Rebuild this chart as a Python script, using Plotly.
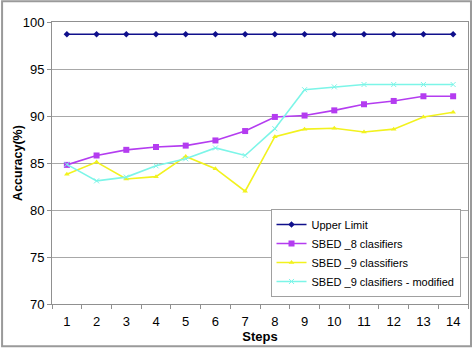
import plotly.graph_objects as go

steps = [str(i) for i in range(1, 15)]
upper_limit = [98.7] * 14
sbed_8 = [84.8, 85.8, 86.4, 86.7, 86.85, 87.4, 88.4, 89.9, 90.05, 90.6, 91.25, 91.6, 92.1, 92.1]
sbed_9 = [83.8, 85.1, 83.3, 83.55, 85.7, 84.4, 82.0, 87.8, 88.6, 88.7, 88.3, 88.6, 89.9, 90.4]
sbed_9_mod = [84.85, 83.1, 83.5, 84.7, 85.45, 86.6, 85.8, 88.65, 92.8, 93.1, 93.35, 93.35, 93.35, 93.35]
y_ticks = [70, 75, 80, 85, 90, 95, 100]

series = [
    ("Upper Limit", upper_limit, "#10108C", dict(symbol="diamond", size=5)),
    ("SBED _8 clasifiers", sbed_8, "#B43CF0", dict(symbol="square", size=6)),
    ("SBED _9 classifiers", sbed_9, "#F2F21E", dict(symbol="triangle-up", size=5)),
    ("SBED _9 clasifiers - modified", sbed_9_mod, "#7CF5E8", dict(symbol="x-thin", size=5, line=dict(width=1, color="#7CF5E8"))),
]

fig = go.Figure()
for name, vals, color, marker in series:
    fig.add_trace(go.Scatter(
        x=steps, y=vals, name=name, mode="lines+markers",
        line=dict(color=color, width=1.6),
        marker=dict(color=color, **marker),
    ))

fig.update_layout(
    width=474, height=349,
    margin=dict(l=52, r=6, t=22, b=45, autoexpand=False),
    paper_bgcolor="white", plot_bgcolor="white",
    font=dict(family="Liberation Sans, Arial, sans-serif", color="black", size=13),
    showlegend=True,
    legend=dict(
        x=0.982, y=0.337, xanchor="right", yanchor="top",
        bgcolor="white", bordercolor="#A0A0A0", borderwidth=1,
        font=dict(size=11), tracegroupgap=0, itemwidth=30,
    ),
    xaxis=dict(
        type="category", range=[-0.5, 13.5], tickson="boundaries",
        ticks="outside", ticklen=4, ticklabelstandoff=5,
        tickcolor="#909090", showline=True, linecolor="#909090", mirror=True,
        showgrid=False, tickfont=dict(size=13),
        title=dict(text="<b>Steps</b>", font=dict(size=13), standoff=0),
    ),
    yaxis=dict(
        range=[70, 100], tickvals=y_ticks, ticks="outside", ticklen=4,
        tickcolor="#909090", showline=True, linecolor="#909090", mirror=True,
        showgrid=True, gridcolor="#A8A8A8", gridwidth=1, zeroline=False,
        tickfont=dict(size=13),
    ),
)

# y-axis title placed close to the tick labels
fig.add_annotation(text="<b>Accuracy(%)</b>", xref="paper", yref="paper",
                   x=-0.082, y=0.5, xanchor="center", yanchor="middle",
                   textangle=-90, showarrow=False, font=dict(size=12.5))

# outer chart frame
fig.add_shape(type="rect", xref="paper", yref="paper",
              x0=-0.12, x1=1.0072, y0=-0.150, y1=1.074,
              line=dict(color="#9A9A9A", width=2), fillcolor="rgba(0,0,0,0)", layer="below")

fig.write_html("out.html")
